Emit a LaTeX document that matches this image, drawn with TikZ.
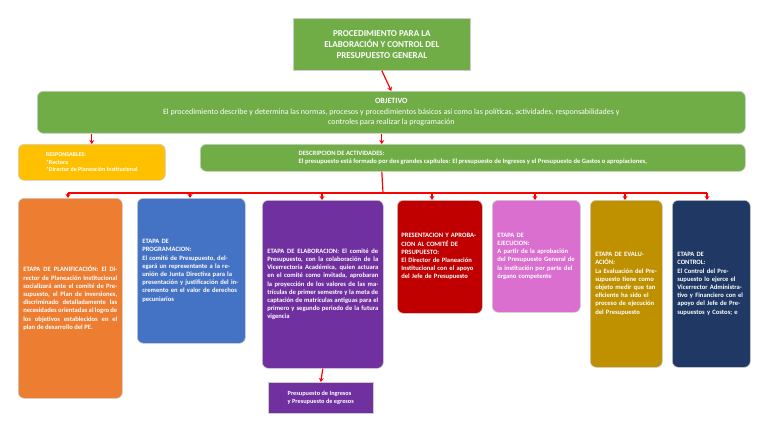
\documentclass[tikz,border=0pt]{standalone}
\usepackage{fontspec}
\setmainfont{Carlito}
\usepackage{tikz}
\usetikzlibrary{arrows.meta}
\definecolor{verde}{HTML}{70AD47}
\definecolor{amarillo}{HTML}{FFC000}
\definecolor{naranja}{HTML}{ED7D31}
\definecolor{azul}{HTML}{4472C4}
\definecolor{morado}{HTML}{7030A0}
\definecolor{rojo}{HTML}{C00000}
\definecolor{rosa}{HTML}{DA6FD0}
\definecolor{oro}{HTML}{BF9000}
\definecolor{marino}{HTML}{1F3864}

\begin{document}
\begin{tikzpicture}[x=1pt,y=-1pt]
    \tikzstyle{caja} = [rectangle, rounded corners=6pt, draw=white!80!black, line width=0.6pt, text=white, font=\fontsize{6.6}{8.2}\selectfont\bfseries, anchor=north west, inner sep=4pt, align=left]
    \tikzstyle{flecha} = [draw=red, line width=1.2pt, -{Stealth[length=4pt,width=5pt]}]

    \useasboundingbox (0,0) rectangle (768,433);

    % Cabecera
    \node[caja, rounded corners=0pt, fill=verde, minimum width=177pt, minimum height=52pt, align=center, font=\fontsize{9}{11}\selectfont\bfseries] (titulo) at (293,18)
        {PROCEDIMIENTO PARA LA\\ELABORACIÓN Y CONTROL DEL\\PRESUPUESTO GENERAL};
    \node[caja, fill=verde, minimum width=708pt, minimum height=42pt, align=center, font=\fontsize{8}{10.5}\selectfont] (objetivo) at (37,91)
        {\textbf{OBJETIVO}\\\mdseries El procedimiento describe y determina las normas, procesos y procedimientos básicos así como las políticas, actividades, responsabilidades y\\\mdseries controles para realizar la programación};
    \node[caja, fill=amarillo, minimum width=147pt, minimum height=36pt, font=\fontsize{6}{7.6}\selectfont\bfseries] (respons) at (18,144)
        {RESPONSABLES:\\*Rectora\\*Director de Planeación Institucional};
    \node[caja, fill=verde, minimum width=545pt, minimum height=27pt, font=\fontsize{6.6}{8.2}\selectfont\bfseries] (descrip) at (200,144)
        {DESCRIPCION DE ACTIVIDADES:\\El presupuesto está formado por dos grandes capítulos: El presupuesto de Ingresos y el Presupuesto de Gastos o apropiaciones,};

    % Etapas
    \node[caja, fill=naranja, minimum width=104pt, minimum height=200pt, text width=94pt, align=justify] (planif) at (18,198)
        {ETAPA DE PLANIFICACIÓN: El Director de Planeación Institucional socializará ante el comité de Presupuesto, el Plan de inversiones, discriminado detalladamente las necesidades orientadas al logro de los objetivos establecidos en el plan de desarrollo del PE.};
    \node[caja, fill=azul, minimum width=108pt, minimum height=145pt, text width=98pt] (program) at (137,198)
        {ETAPA DE\\PROGRAMACION:\\El comité de Presupuesto, delegará un representante a la reunión de Junta Directiva para la presentación y justificación del incremento en el valor de derechos pecuniarios};
    \node[caja, fill=morado, minimum width=121pt, minimum height=168pt, text width=111pt, align=justify] (elabor) at (262,200)
        {ETAPA DE ELABORACION: El comité de Presupuesto, con la colaboración de la Vicerrectoría Académica, quien actuara en el comité como invitada, aprobaran la proyección de los valores de las matrículas de primer semestre y la meta de captación de matrículas antiguas para el primero y segundo periodo de la futura vigencia};
    \node[caja, rounded corners=0pt, fill=morado, minimum width=105pt, minimum height=31pt, font=\fontsize{6.3}{8}\selectfont\bfseries] (egresos) at (268,382)
        {Presupuesto de Ingresos\\y Presupuesto de egresos};
    \node[caja, fill=rojo, minimum width=85pt, minimum height=113pt, text width=77pt] (present) at (397,200)
        {PRESENTACION Y APROBACION AL COMITÉ DE PRSUPUESTO:\\El Director de Planeación Institucional con el apoyo del Jefe de Presupuesto};
    \node[caja, fill=rosa, minimum width=88pt, minimum height=112pt, text width=78pt] (ejecuc) at (492,200)
        {ETAPA DE\\EJECUCION:\\A partir de la aprobación del Presupuesto General de la institución por parte del órgano competente};
    \node[caja, fill=oro, minimum width=72pt, minimum height=167pt, text width=62pt] (evalua) at (590,200)
        {ETAPA DE EVALUACIÓN:\\La Evaluación del Presupuesto tiene como objeto medir que tan eficiente ha sido el proceso de ejecución del Presupuesto};
    \node[caja, fill=marino, minimum width=78pt, minimum height=167pt, text width=68pt] (control) at (672,200)
        {ETAPA DE\\CONTROL:\\El Control del Presupuesto lo ejerce el Vicerrector Administrativo y Financiero con el apoyo del Jefe de Presupuestos y Costos; e};

    % Conectores
    \draw[flecha] (titulo.south) -- (objetivo.north);
    \draw[flecha] (respons.north |- objetivo.south) -- (respons.north);
    \draw[flecha] (titulo.south |- objetivo.south) -- (titulo.south |- descrip.north);
    \coordinate (bus) at (383,193);
    \draw[red, line width=1.2pt] (titulo.south |- descrip.south) -- (bus);
    \draw[red, line width=1.2pt] (68,193) -- (707,193);
    \foreach \n/\x in {planif/68, program/190, elabor/322, present/432, ejecuc/535, evalua/625, control/707}
        \draw[flecha] (\x,193) -- (\x,0 |- \n.north);
    \draw[flecha] (elabor.south) -- (egresos.north);
\end{tikzpicture}
\end{document}
